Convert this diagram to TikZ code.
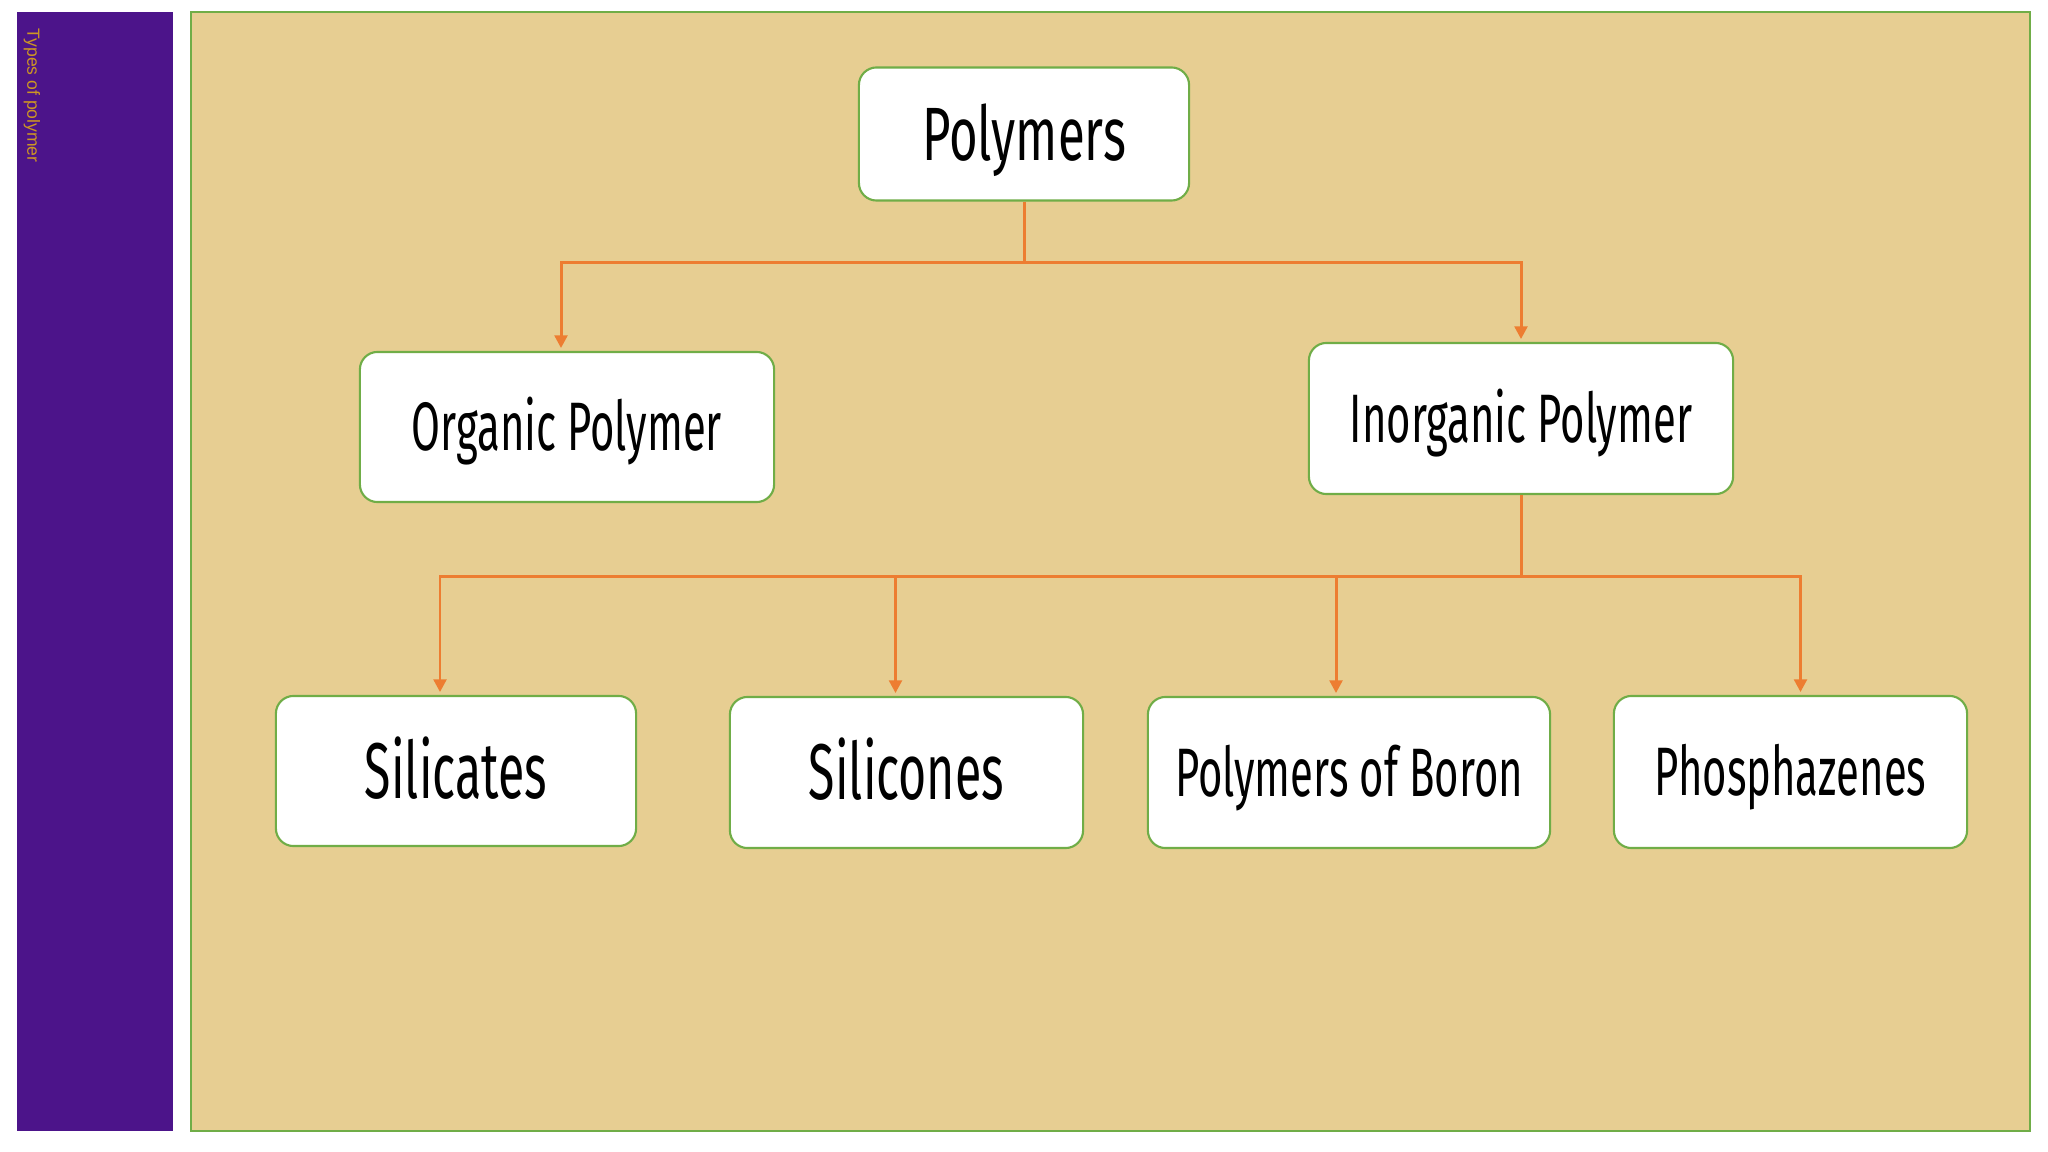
\documentclass[tikz,border=0pt]{standalone}
\usepackage{fontspec}
\setmainfont{Fira Sans}[FakeStretch=0.65]
\newfontfamily\narrowfont{Fira Sans}[FakeStretch=0.61]
\newfontfamily\sidefont{Liberation Sans}
\usetikzlibrary{calc,arrows.meta}
\definecolor{purp}{RGB}{76,20,138}
\definecolor{papyrus}{RGB}{231,206,146}
\definecolor{boxgreen}{RGB}{112,173,71}
\definecolor{conn}{RGB}{237,125,49}
\definecolor{sidegold}{RGB}{205,150,35}
\begin{document}
\begin{tikzpicture}[x=0.01cm,y=-0.01cm,
  box/.style={draw=boxgreen, line width=0.6pt, fill=white, rounded corners=5pt, inner sep=0pt, align=center, text=black, text depth=0pt},
  big/.style={font=\fontsize{21.5}{24}\selectfont, text height=14.8pt},
  mid/.style={font=\narrowfont\fontsize{19.5}{22}\selectfont, text height=13.4pt},
  lrg/.style={font=\narrowfont\fontsize{22.5}{25}\selectfont, text height=15.5pt},
  wire/.style={draw=conn, line width=0.85pt},
  arr/.style={wire, -{Triangle[length=3.6pt,width=3.6pt]}, shorten >=0.8pt}]
\useasboundingbox (0,0) rectangle (2048,1152);
\fill[white] (0,0) rectangle (2048,1152);
\fill[purp] (17,12) rectangle (173,1131);
\draw[boxgreen, line width=0.6pt, fill=papyrus] (191,12) rectangle (2030,1131);
\node[rotate=-90, anchor=west, inner sep=0pt, text=sidegold, font=\sidefont\fontsize{5}{6}\selectfont] (side) at (32,28) {Types of polymer};

\node[box, big, minimum width=3.30cm, minimum height=1.33cm] (poly) at (1024,134) {Polymers};
\node[box, mid, minimum width=4.14cm, minimum height=1.50cm] (org) at (567,427) {Organic Polymer};
\node[box, mid, minimum width=4.24cm, minimum height=1.51cm] (inorg) at (1521,418.5) {Inorganic Polymer};
\node[box, lrg, minimum width=3.60cm, minimum height=1.50cm] (sil) at (456,771) {Silicates};
\node[box, lrg, minimum width=3.53cm, minimum height=1.51cm] (silc) at (906.5,772.5) {Silicones};
\node[box, mid, minimum width=4.02cm, minimum height=1.51cm] (boron) at (1349,772.5) {Polymers of Boron};
\node[box, mid, minimum width=3.53cm, minimum height=1.52cm] (phos) at (1790.5,772) {Phosphazenes};

\coordinate (j1) at ($(poly.south)+(0,61)$);
\coordinate (j2) at ($(inorg.south)+(0,81)$);
\draw[wire] (poly.south) -- (j1);
\draw[arr] (j1) -| ($(org.north)+(-6,0)$);
\draw[arr] (j1) -| (inorg.north);
\draw[wire] (inorg.south) -- (j2);
\draw[arr] (j2) -| ($(sil.north)+(-16,0)$);
\draw[arr] (j2) -| ($(silc.north)+(-11,0)$);
\draw[arr] (j2) -| ($(boron.north)+(-13,0)$);
\draw[arr] (j2) -| ($(phos.north)+(10,0)$);
\end{tikzpicture}
\end{document}
